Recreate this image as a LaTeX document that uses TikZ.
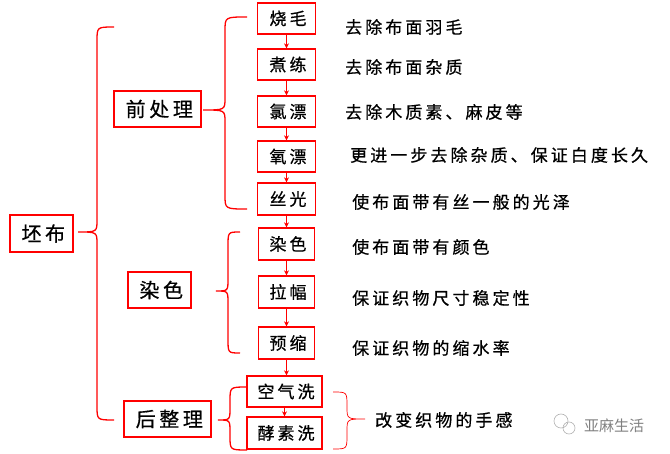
\documentclass[tikz,border=0pt]{standalone}
\usepackage{fontspec}
\usepackage{tikz}
\usetikzlibrary{arrows.meta}
\setmainfont{Noto Sans CJK SC}
\newfontfamily\cnfont[LetterSpace=18, FakeBold=0.6]{Noto Sans CJK SC}
\newfontfamily\markfont{Noto Sans CJK SC}
\tikzset{
	box/.style={draw=red, line width=1.3pt, inner sep=0pt, font=\cnfont\fontsize{17}{17}\selectfont,
		execute at end node={\kern-0.18em}},
	bigbox/.style={box, font=\cnfont\fontsize{20}{20}\selectfont},
	note/.style={anchor=west, inner sep=0pt, font=\cnfont\fontsize{17}{17}\selectfont},
	arr/.style={draw=red, line width=0.9pt, -{Stealth[length=5pt,width=5pt]}},
	brace/.style={draw=red, line width=1.3pt}
}
% tip x, tip y, line x, end x, top y, bottom y
\newcommand\bracepath[7][brace]{%
	\draw[#1] (#5,#6) .. controls (#4,#6) .. (#4,{#6+14}) -- (#4,{#3-12})
		.. controls (#4,#3) .. (#2,#3) .. controls (#4,#3) .. (#4,{#3+12})
		-- (#4,{#7-14}) .. controls (#4,#7) .. (#5,#7);}
\begin{document}
\begin{tikzpicture}[x=1pt,y=-1pt]
		\useasboundingbox (0,0) rectangle (670,454);
		% main blocks
		\node [bigbox, minimum width=63, minimum height=37] (pibu)  at (41.5,233.5) {坯布};
		\node [bigbox, minimum width=87, minimum height=36] (qian)  at (157.5,109)  {前处理};
		\node [bigbox, minimum width=63, minimum height=36] (ranse) at (159.5,290)  {染色};
		\node [bigbox, minimum width=87, minimum height=36] (hou)   at (167.5,419)  {后整理};
		% steps
		\node [box, minimum width=58, minimum height=31] (shaomao) at (286.5,18.5)  {烧毛};
		\node [box, minimum width=58, minimum height=31] (zhulian) at (286.5,64.5)  {煮练};
		\node [box, minimum width=58, minimum height=31] (lvpiao)  at (286.5,111.5) {氯漂};
		\node [box, minimum width=58, minimum height=31] (yangpiao) at (286.5,156.5) {氧漂};
		\node [box, minimum width=58, minimum height=32] (siguang) at (286.5,199)   {丝光};
		\node [box, minimum width=56, minimum height=32] (ranbox)  at (286.5,244)   {染色};
		\node [box, minimum width=56, minimum height=32] (lafu)    at (286.5,292)   {拉幅};
		\node [box, minimum width=56, minimum height=32] (yusuo)   at (286.5,343)   {预缩};
		\node [box, minimum width=75, minimum height=31] (kongqi)  at (284.5,391.5) {空气洗};
		\node [box, minimum width=75, minimum height=32] (jiaosu)  at (284.5,433)   {酵素洗};
		\draw [arr] (shaomao) -- (zhulian);
		\draw [arr] (zhulian) -- (lvpiao);
		\draw [arr] (lvpiao) -- (yangpiao);
		\draw [arr] (yangpiao) -- (siguang);
		\draw [arr] (siguang) -- (ranbox);
		\draw [arr] (ranbox) -- (lafu);
		\draw [arr] (lafu) -- (yusuo);
		\draw [arr] (yusuo.south) -- (yusuo.south |- kongqi.north);
		\draw [arr] (kongqi) -- (jiaosu);
		% braces
		\bracepath{78}{232}{97}{114}{27}{420}
		\bracepath{203}{110}{225}{247}{17}{209}
		\bracepath{216}{291}{228}{240}{232}{353}
		\bracepath{218}{420}{230}{247}{387}{450}
		\bracepath[brace, line width=0.7pt]{365}{419}{347}{333}{392}{449}
		% notes
		\node [note] (n1) at (345,27)  {去除布面羽毛};
		\node [note] (n2) at (345,67)  {去除布面杂质};
		\node [note] (n3) at (345,112) {去除木质素、麻皮等};
		\node [note] (n4) at (350,155) {更进一步去除杂质、保证白度长久};
		\node [note] (n5) at (352,202) {使布面带有丝一般的光泽};
		\node [note] (n6) at (352,247) {使布面带有颜色};
		\node [note] (n7) at (352,298) {保证织物尺寸稳定性};
		\node [note] (n8) at (352,348) {保证织物的缩水率};
		\node [note] (n9) at (375,420) {改变织物的手感};
		% watermark
		\draw [gray!60, line width=0.6pt] (561,421) circle (7);
		\draw [gray!60, line width=0.6pt] (569,428) circle (6);
		\node [anchor=west, inner sep=0pt, text=gray, font=\markfont\fontsize{15}{15}\selectfont] (mark) at (584,426) {亚麻生活};
	\end{tikzpicture}
\end{document}
